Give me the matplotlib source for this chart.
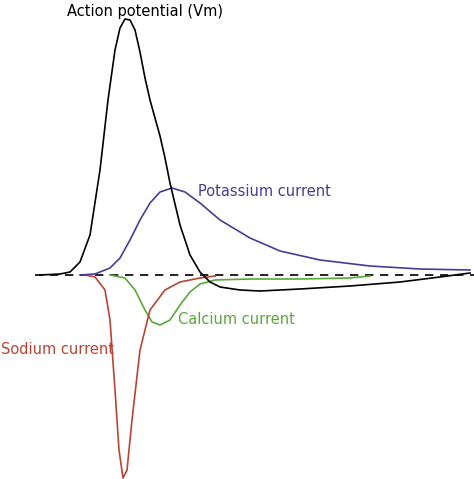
import matplotlib
matplotlib.use("Agg")
from matplotlib import pyplot as plt

# curves, x in px, y in px from top
ap_x = [40, 60, 70, 80, 90, 100, 108, 115, 120, 125, 130, 135, 140, 145, 150, 155, 160, 165, 170, 180, 190, 200, 210, 220, 240, 260, 300, 350, 400, 440, 470]
ap_y = [275, 274, 272, 262, 235, 170, 100, 50, 28, 19, 20, 30, 52, 78, 100, 118, 136, 158, 183, 225, 255, 272, 282, 287, 290, 291, 289, 286, 282, 277, 273]
k_x = [80, 95, 110, 120, 130, 140, 150, 160, 172, 185, 200, 220, 250, 280, 320, 370, 420, 470]
k_y = [275, 274, 268, 258, 240, 220, 203, 192, 188, 192, 203, 220, 238, 251, 260, 266, 269, 270]
na_x = [85, 95, 105, 110, 115, 119, 123, 127, 132, 140, 150, 165, 180, 200, 215]
na_y = [275, 277, 290, 320, 390, 450, 478, 470, 420, 350, 310, 290, 282, 278, 276]
ca_x = [110, 125, 135, 145, 152, 160, 170, 180, 190, 200, 215, 250, 300, 350, 370]
ca_y = [275, 278, 290, 310, 322, 325, 320, 305, 292, 284, 280, 279, 279, 278, 276]

BASE = 275

def conv(ys):
    return [BASE - y for y in ys]

fig = plt.figure(figsize=(4.74, 4.79), dpi=100)
ax = fig.add_axes([0, 0, 1, 1])
ax.set_xlim(0, 474)
ax.set_ylim(BASE - 479, BASE)
ax.axis("off")

ax.plot([35, 474], [0, 0], "k--", lw=1.2, dashes=(5, 4))
ax.plot(ca_x, conv(ca_y), color="#5aa83a", lw=1.2)
ax.plot(na_x, conv(na_y), color="#b84436", lw=1.2)
ax.plot(k_x, conv(k_y), color="#4b3b94", lw=1.2)
ax.plot(ap_x, conv(ap_y), color="black", lw=1.2)

fs = 10.5
ax.text(145, BASE - 11, "Action potential (Vm)", ha="center", va="center", fontsize=fs)
ax.text(198, BASE - 192, "Potassium current", ha="left", va="center", fontsize=fs, color="#4b3b94")
ax.text(178, BASE - 320, "Calcium current", ha="left", va="center", fontsize=fs, color="#5aa83a")
ax.text(1, BASE - 350, "Sodium current", ha="left", va="center", fontsize=fs, color="#b84436")

fig.savefig("out.png", dpi=100)
